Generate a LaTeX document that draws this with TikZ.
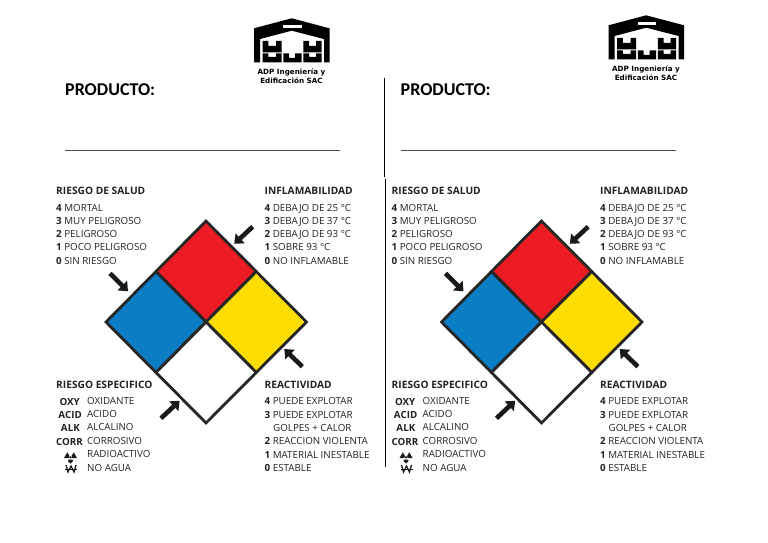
\documentclass[tikz,border=0pt]{standalone}
\usepackage{fontspec}
\setmainfont{Open Sans}
\newfontfamily\prodfont{Carlito}
\newfontfamily\logofont{DejaVu Sans}
\usetikzlibrary{arrows.meta}
\definecolor{nred}{HTML}{ED1C24}
\definecolor{nblue}{HTML}{0A7DC4}
\definecolor{nyellow}{HTML}{FFDD00}
\definecolor{txt}{HTML}{222222}
\tikzset{
  lab/.style={anchor=base west,inner sep=0pt,text=txt,font=\fontsize{9.8}{11}\selectfont},
  head/.style={lab,font=\fontsize{10.2}{11}\selectfont\bfseries},
  code/.style={anchor=base east,inner sep=0pt,text=txt,font=\fontsize{9.8}{11}\selectfont\bfseries},
  cell/.style={draw=black!85,line width=2.8pt,line join=miter},
  harrow/.style={-{Triangle[length=8pt,width=13pt]},line width=4.6pt,black!90},
  divider/.style={black,line width=1pt},
  prod/.style={anchor=base west,inner sep=0pt,font=\fontsize{18}{20}\selectfont\prodfont\bfseries},
  logotext/.style={inner sep=0pt,anchor=base,font=\fontsize{7.2}{9}\selectfont\logofont\bfseries},
  ruled/.style={black!70,line width=1.1pt},
}
\begin{document}
\begin{tikzpicture}[x=1pt,y=-1pt]
\useasboundingbox[fill=white] (0,0) rectangle (768,543);
\foreach \dx/\lx/\ly in {0/254/17,335.5/608.5/14}{
\begin{scope}[shift={(\dx,0)}]
  \node[prod] (prod) at (65,95) {PRODUCTO:};
  \coordinate (ua) at (65,150.5); \coordinate (ub) at (340,150.5);
  \draw[ruled] (ua) -- (ub);
  \coordinate (T) at (206,221); \coordinate (L) at (106,322); \coordinate (R) at (306.5,322); \coordinate (B) at (206,423);
  \coordinate (C) at (206,322);
  \coordinate (TL) at (156,271.5); \coordinate (TR) at (256.25,271.5); \coordinate (BL) at (156,372.5); \coordinate (BR) at (256.25,372.5);
  \draw[cell,fill=nred] (T) -- (TR) -- (C) -- (TL) -- cycle;
  \draw[cell,fill=nblue] (TL) -- (C) -- (BL) -- (L) -- cycle;
  \draw[cell,fill=nyellow] (TR) -- (R) -- (BR) -- (C) -- cycle;
  \draw[cell,fill=white] (C) -- (BR) -- (B) -- (BL) -- cycle;
  \coordinate (a1s) at (252.7,226.7); \coordinate (a1e) at (234.3,243.8);
  \coordinate (a2s) at (110,273.3); \coordinate (a2e) at (128,291.3);
  \coordinate (a3s) at (302.3,366.7); \coordinate (a3e) at (284.3,349);
  \coordinate (a4s) at (161,418.3); \coordinate (a4e) at (179.6,400.8);
  \draw[harrow] (a1s) -- (a1e);
  \draw[harrow] (a2s) -- (a2e);
  \draw[harrow] (a3s) -- (a3e);
  \draw[harrow] (a4s) -- (a4e);
  \node[head] (h1) at (56,194.5) {RIESGO DE SALUD};
  \node[lab] (s4) at (56,211) {\textbf{4} MORTAL};
  \node[lab] (s3) at (56,224) {\textbf{3} MUY PELIGROSO};
  \node[lab] (s2) at (56,237.5) {\textbf{2} PELIGROSO};
  \node[lab] (s1) at (56,250.5) {\textbf{1} POCO PELIGROSO};
  \node[lab] (s0) at (56,264) {\textbf{0} SIN RIESGO};
  \node[head] (h2) at (264.5,194.5) {INFLAMABILIDAD};
  \node[lab] (f4) at (264.5,211) {\textbf{4} DEBAJO DE 25 °C};
  \node[lab] (f3) at (264.5,224) {\textbf{3} DEBAJO DE 37 °C};
  \node[lab] (f2) at (264.5,237.5) {\textbf{2} DEBAJO DE 93 °C};
  \node[lab] (f1) at (264.5,250.5) {\textbf{1} SOBRE 93 °C};
  \node[lab] (f0) at (264.5,264) {\textbf{0} NO INFLAMABLE};
  \node[head] (h3) at (56,388.5) {RIESGO ESPECIFICO};
  \node[code] (c1) at (80,405) {OXY};
  \node[lab] (d1) at (87,404.5) {OXIDANTE};
  \node[code] (c2) at (82,418) {ACID};
  \node[lab] (d2) at (87,417.5) {ACIDO};
  \node[code] (c3) at (80,431.5) {ALK};
  \node[lab] (d3) at (87,430.5) {ALCALINO};
  \node[code] (c4) at (83,445) {CORR};
  \node[lab] (d4) at (87,444) {CORROSIVO};
  \node[lab] (d5) at (87,457.5) {RADIOACTIVO};
  \node[lab] (d6) at (87,471) {NO AGUA};
  \fill[black!90] (70.5,457.3) circle (1.3);
  \fill[black!90] (64,458) -- (67.3,452.3) -- (69.4,456) -- (68.8,458) -- cycle;
  \fill[black!90] (77,458) -- (73.7,452.3) -- (71.6,456) -- (72.2,458) -- cycle;
  \fill[black!90] (68.6,459.6) -- (72.4,459.6) -- (73,461) -- (70.5,463.5) -- (68,461) -- cycle;
  \draw[black!90,line width=1.3pt] (65,469.3) -- (77,469.3);
  \draw[black!90,line width=1.3pt] (66,465) -- (68,472) -- (71,466) -- (74,472) -- (76,465);
  \node[head] (h4) at (264.5,388.5) {REACTIVIDAD};
  \node[lab] (r4) at (264.5,404.5) {\textbf{4} PUEDE EXPLOTAR};
  \node[lab] (r3) at (264.5,418) {\textbf{3} PUEDE EXPLOTAR};
  \node[lab] (r3b) at (273,431) {GOLPES + CALOR};
  \node[lab] (r2) at (264.5,444.5) {\textbf{2} REACCION VIOLENTA};
  \node[lab] (r1) at (264.5,458) {\textbf{1} MATERIAL INESTABLE};
  \node[lab] (r0) at (264.5,471.5) {\textbf{0} ESTABLE};
\end{scope}
\begin{scope}[shift={(\lx,\ly)}]
  \fill[black] (0,11.3) -- (37.7,1.3) -- (75.5,11.3) -- (75.5,45.5) -- (70,45.5) -- (70,22) -- (37.7,13.7) -- (6,22) -- (6,45.5) -- (0,45.5) -- cycle;
  \fill[white] (29.3,8) rectangle (47.7,11.3);
  \fill[black] (8.7,24) rectangle (14.3,29) (22,24) rectangle (27.7,29) (8.7,29) rectangle (27.7,35.3);
  \fill[black] (49.3,24) rectangle (55,29) (62,24) rectangle (67.7,29) (49.3,29) rectangle (67.7,35.3);
  \fill[black] (8.7,36.3) rectangle (14.3,40) (22,36.3) rectangle (27.7,40) (8.7,40) rectangle (27.7,45.5);
  \fill[black] (49.3,36.3) rectangle (55,40) (62,36.3) rectangle (67.7,40) (49.3,40) rectangle (67.7,45.5);
  \fill[black] (29.3,36.3) rectangle (35,41) (41,36.3) rectangle (47.7,41) (29.3,41) rectangle (47.7,45.5);
  \node[logotext] (lg1) at (37.5,57.5) {ADP Ingeniería y};
  \node[logotext] (lg2) at (37.5,66.5) {Edificación SAC};
\end{scope}
}
\coordinate (v1) at (384.5,78); \coordinate (v2) at (384.5,177);
\coordinate (v3) at (385,179); \coordinate (v4) at (385,467);
\draw[divider] (v1) -- (v2);
\draw[divider] (v3) -- (v4);
\end{tikzpicture}
\end{document}
